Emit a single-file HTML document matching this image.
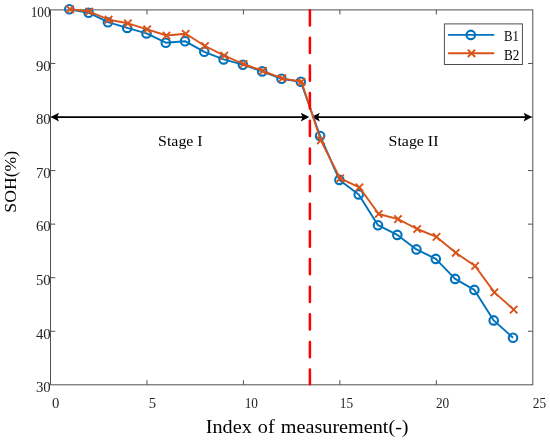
<!DOCTYPE html>
<html><head><meta charset="utf-8"><title>SOH</title>
<style>html,body{margin:0;padding:0;background:#fff}svg{display:block}text{font-family:"Liberation Serif","Times New Roman",serif;fill:#000}.tk{font-size:15.6px;fill:#262626}</style></head><body>
<svg width="550" height="442" viewBox="0 0 550 442">
<rect width="550" height="442" fill="#fff"/>
<rect x="50.5" y="9.9" width="482.30" height="374.90" fill="none" stroke="#505050" stroke-width="1"/>
<path d="M146.96 384.8v-4.6M146.96 9.9v4.6M243.42 384.8v-4.6M243.42 9.9v4.6M339.88 384.8v-4.6M339.88 9.9v4.6M436.34 384.8v-4.6M436.34 9.9v4.6M50.5 331.24h4.8M532.8 331.24h-4.8M50.5 277.69h4.8M532.8 277.69h-4.8M50.5 224.13h4.8M532.8 224.13h-4.8M50.5 170.57h4.8M532.8 170.57h-4.8M50.5 117.01h4.8M532.8 117.01h-4.8M50.5 63.46h4.8M532.8 63.46h-4.8" stroke="#505050" stroke-width="1" fill="none"/>
<text class="tk" transform="translate(50.7,392.1) scale(0.95,1)" text-anchor="end">30</text>
<text class="tk" transform="translate(50.7,338.5) scale(0.95,1)" text-anchor="end">40</text>
<text class="tk" transform="translate(50.7,285.0) scale(0.95,1)" text-anchor="end">50</text>
<text class="tk" transform="translate(50.7,231.4) scale(0.95,1)" text-anchor="end">60</text>
<text class="tk" transform="translate(50.7,177.9) scale(0.95,1)" text-anchor="end">70</text>
<text class="tk" transform="translate(50.7,124.3) scale(0.95,1)" text-anchor="end">80</text>
<text class="tk" transform="translate(50.7,70.8) scale(0.95,1)" text-anchor="end">90</text>
<text class="tk" transform="translate(50.7,17.2) scale(0.855,1)" text-anchor="end">100</text>
<text class="tk" transform="translate(55.7,408.2) scale(0.94,1)" text-anchor="middle">0</text>
<text class="tk" transform="translate(152.4,408.2) scale(0.94,1)" text-anchor="middle">5</text>
<text class="tk" transform="translate(251.3,408.2) scale(0.855,1)" text-anchor="middle">10</text>
<text class="tk" transform="translate(346.5,408.2) scale(0.855,1)" text-anchor="middle">15</text>
<text class="tk" transform="translate(442.6,408.2) scale(0.855,1)" text-anchor="middle">20</text>
<text class="tk" transform="translate(539.5,408.2) scale(0.855,1)" text-anchor="middle">25</text>
<text transform="translate(307.2,433.2) scale(1.069,1)" font-size="18.9px" word-spacing="1px" text-anchor="middle">Index of measurement(-)</text>
<text transform="translate(15.7,181.7) rotate(-90)" font-size="17.7px" text-anchor="middle">SOH(%)</text>
<line x1="54.6" y1="117.1" x2="305.2" y2="117.1" stroke="#000" stroke-width="1.7"/><path d="M50.6 117.1L59.0 112.69999999999999L57.2 117.1L59.0 121.5Z" fill="#000"/><path d="M309.2 117.1L300.8 112.69999999999999L302.59999999999997 117.1L300.8 121.5Z" fill="#000"/>
<line x1="315.4" y1="117.1" x2="528" y2="117.1" stroke="#000" stroke-width="1.7"/><path d="M311.4 117.1L319.79999999999995 112.69999999999999L318.0 117.1L319.79999999999995 121.5Z" fill="#000"/><path d="M532 117.1L523.6 112.69999999999999L525.4 117.1L523.6 121.5Z" fill="#000"/>
<text transform="translate(180.4,146) scale(1.06,1)" font-size="15px" text-anchor="middle">Stage I</text>
<text transform="translate(413.5,146) scale(1.06,1)" font-size="15px" text-anchor="middle">Stage II</text>
<polyline points="69.3,9.3 88.6,12.7 107.9,22.2 127.2,27.9 146.5,33.4 165.8,42.7 185.0,41.2 204.3,51.8 223.6,59.4 242.9,64.7 262.2,71.4 281.5,78.8 300.8,81.8 320.1,136.0 339.4,179.9 358.7,194.4 378.0,225.2 397.3,234.9 416.5,249.4 435.8,258.9 455.1,278.9 474.4,289.9 493.7,320.4 513.0,337.7" fill="none" stroke="#0072BD" stroke-width="1.9" stroke-linejoin="round"/><circle cx="69.3" cy="9.3" r="4.25" fill="none" stroke="#0072BD" stroke-width="2.1"/><circle cx="88.6" cy="12.7" r="4.25" fill="none" stroke="#0072BD" stroke-width="2.1"/><circle cx="107.9" cy="22.2" r="4.25" fill="none" stroke="#0072BD" stroke-width="2.1"/><circle cx="127.2" cy="27.9" r="4.25" fill="none" stroke="#0072BD" stroke-width="2.1"/><circle cx="146.5" cy="33.4" r="4.25" fill="none" stroke="#0072BD" stroke-width="2.1"/><circle cx="165.8" cy="42.7" r="4.25" fill="none" stroke="#0072BD" stroke-width="2.1"/><circle cx="185.0" cy="41.2" r="4.25" fill="none" stroke="#0072BD" stroke-width="2.1"/><circle cx="204.3" cy="51.8" r="4.25" fill="none" stroke="#0072BD" stroke-width="2.1"/><circle cx="223.6" cy="59.4" r="4.25" fill="none" stroke="#0072BD" stroke-width="2.1"/><circle cx="242.9" cy="64.7" r="4.25" fill="none" stroke="#0072BD" stroke-width="2.1"/><circle cx="262.2" cy="71.4" r="4.25" fill="none" stroke="#0072BD" stroke-width="2.1"/><circle cx="281.5" cy="78.8" r="4.25" fill="none" stroke="#0072BD" stroke-width="2.1"/><circle cx="300.8" cy="81.8" r="4.25" fill="none" stroke="#0072BD" stroke-width="2.1"/><circle cx="320.1" cy="136.0" r="4.25" fill="none" stroke="#0072BD" stroke-width="2.1"/><circle cx="339.4" cy="179.9" r="4.25" fill="none" stroke="#0072BD" stroke-width="2.1"/><circle cx="358.7" cy="194.4" r="4.25" fill="none" stroke="#0072BD" stroke-width="2.1"/><circle cx="378.0" cy="225.2" r="4.25" fill="none" stroke="#0072BD" stroke-width="2.1"/><circle cx="397.3" cy="234.9" r="4.25" fill="none" stroke="#0072BD" stroke-width="2.1"/><circle cx="416.5" cy="249.4" r="4.25" fill="none" stroke="#0072BD" stroke-width="2.1"/><circle cx="435.8" cy="258.9" r="4.25" fill="none" stroke="#0072BD" stroke-width="2.1"/><circle cx="455.1" cy="278.9" r="4.25" fill="none" stroke="#0072BD" stroke-width="2.1"/><circle cx="474.4" cy="289.9" r="4.25" fill="none" stroke="#0072BD" stroke-width="2.1"/><circle cx="493.7" cy="320.4" r="4.25" fill="none" stroke="#0072BD" stroke-width="2.1"/><circle cx="513.0" cy="337.7" r="4.25" fill="none" stroke="#0072BD" stroke-width="2.1"/>
<polyline points="70.0,9.3 89.3,11.5 108.6,19.7 127.9,23.3 147.2,29.3 166.5,35.5 185.7,33.8 205.0,46.0 224.3,55.6 243.6,64.0 262.9,70.9 282.2,78.4 301.5,81.8 320.8,140.4 340.1,178.4 359.4,187.4 378.7,214.0 398.0,219.1 417.2,229.0 436.5,236.9 455.8,252.8 475.1,266.0 494.4,292.4 513.7,309.6" fill="none" stroke="#D95319" stroke-width="1.9" stroke-linejoin="round"/><path d="M66.3 5.6L73.7 13.0M66.3 13.0L73.7 5.6" stroke="#D95319" stroke-width="1.9" fill="none"/><path d="M85.6 7.8L93.0 15.2M85.6 15.2L93.0 7.8" stroke="#D95319" stroke-width="1.9" fill="none"/><path d="M104.9 16.0L112.3 23.4M104.9 23.4L112.3 16.0" stroke="#D95319" stroke-width="1.9" fill="none"/><path d="M124.2 19.6L131.6 27.0M124.2 27.0L131.6 19.6" stroke="#D95319" stroke-width="1.9" fill="none"/><path d="M143.5 25.6L150.9 33.0M143.5 33.0L150.9 25.6" stroke="#D95319" stroke-width="1.9" fill="none"/><path d="M162.8 31.8L170.2 39.2M162.8 39.2L170.2 31.8" stroke="#D95319" stroke-width="1.9" fill="none"/><path d="M182.0 30.1L189.4 37.5M182.0 37.5L189.4 30.1" stroke="#D95319" stroke-width="1.9" fill="none"/><path d="M201.3 42.3L208.7 49.7M201.3 49.7L208.7 42.3" stroke="#D95319" stroke-width="1.9" fill="none"/><path d="M220.6 51.9L228.0 59.3M220.6 59.3L228.0 51.9" stroke="#D95319" stroke-width="1.9" fill="none"/><path d="M239.9 60.3L247.3 67.7M239.9 67.7L247.3 60.3" stroke="#D95319" stroke-width="1.9" fill="none"/><path d="M259.2 67.2L266.6 74.6M259.2 74.6L266.6 67.2" stroke="#D95319" stroke-width="1.9" fill="none"/><path d="M278.5 74.7L285.9 82.1M278.5 82.1L285.9 74.7" stroke="#D95319" stroke-width="1.9" fill="none"/><path d="M297.8 78.1L305.2 85.5M297.8 85.5L305.2 78.1" stroke="#D95319" stroke-width="1.9" fill="none"/><path d="M317.1 136.7L324.5 144.1M317.1 144.1L324.5 136.7" stroke="#D95319" stroke-width="1.9" fill="none"/><path d="M336.4 174.7L343.8 182.1M336.4 182.1L343.8 174.7" stroke="#D95319" stroke-width="1.9" fill="none"/><path d="M355.7 183.7L363.1 191.1M355.7 191.1L363.1 183.7" stroke="#D95319" stroke-width="1.9" fill="none"/><path d="M375.0 210.3L382.4 217.7M375.0 217.7L382.4 210.3" stroke="#D95319" stroke-width="1.9" fill="none"/><path d="M394.3 215.4L401.7 222.8M394.3 222.8L401.7 215.4" stroke="#D95319" stroke-width="1.9" fill="none"/><path d="M413.5 225.3L420.9 232.7M413.5 232.7L420.9 225.3" stroke="#D95319" stroke-width="1.9" fill="none"/><path d="M432.8 233.2L440.2 240.6M432.8 240.6L440.2 233.2" stroke="#D95319" stroke-width="1.9" fill="none"/><path d="M452.1 249.1L459.5 256.5M452.1 256.5L459.5 249.1" stroke="#D95319" stroke-width="1.9" fill="none"/><path d="M471.4 262.3L478.8 269.7M471.4 269.7L478.8 262.3" stroke="#D95319" stroke-width="1.9" fill="none"/><path d="M490.7 288.7L498.1 296.1M490.7 296.1L498.1 288.7" stroke="#D95319" stroke-width="1.9" fill="none"/><path d="M510.0 305.9L517.4 313.3M510.0 313.3L517.4 305.9" stroke="#D95319" stroke-width="1.9" fill="none"/>
<line x1="309.9" y1="10.15" x2="309.9" y2="384.20" stroke="#FF0000" stroke-width="2.5" stroke-linecap="round" stroke-dasharray="15.3 12.35"/>
<rect x="444.4" y="23.9" width="78.0" height="40.6" fill="#fff" stroke="#505050" stroke-width="1"/>
<line x1="448.1" y1="34.9" x2="494.2" y2="34.9" stroke="#0072BD" stroke-width="1.9"/><circle cx="470.8" cy="34.9" r="4.25" fill="none" stroke="#0072BD" stroke-width="2.1"/>
<line x1="448.1" y1="53.3" x2="494.2" y2="53.3" stroke="#D95319" stroke-width="1.9"/><path d="M467.8 49.6L475.2 57.0M467.8 57.0L475.2 49.6" stroke="#D95319" stroke-width="1.9" fill="none"/>
<text x="504.0" y="41" font-size="14.8px" textLength="14.8" lengthAdjust="spacingAndGlyphs">B1</text>
<text x="504.0" y="59.8" font-size="14.8px" textLength="15.4" lengthAdjust="spacingAndGlyphs">B2</text>
</svg></body></html>
